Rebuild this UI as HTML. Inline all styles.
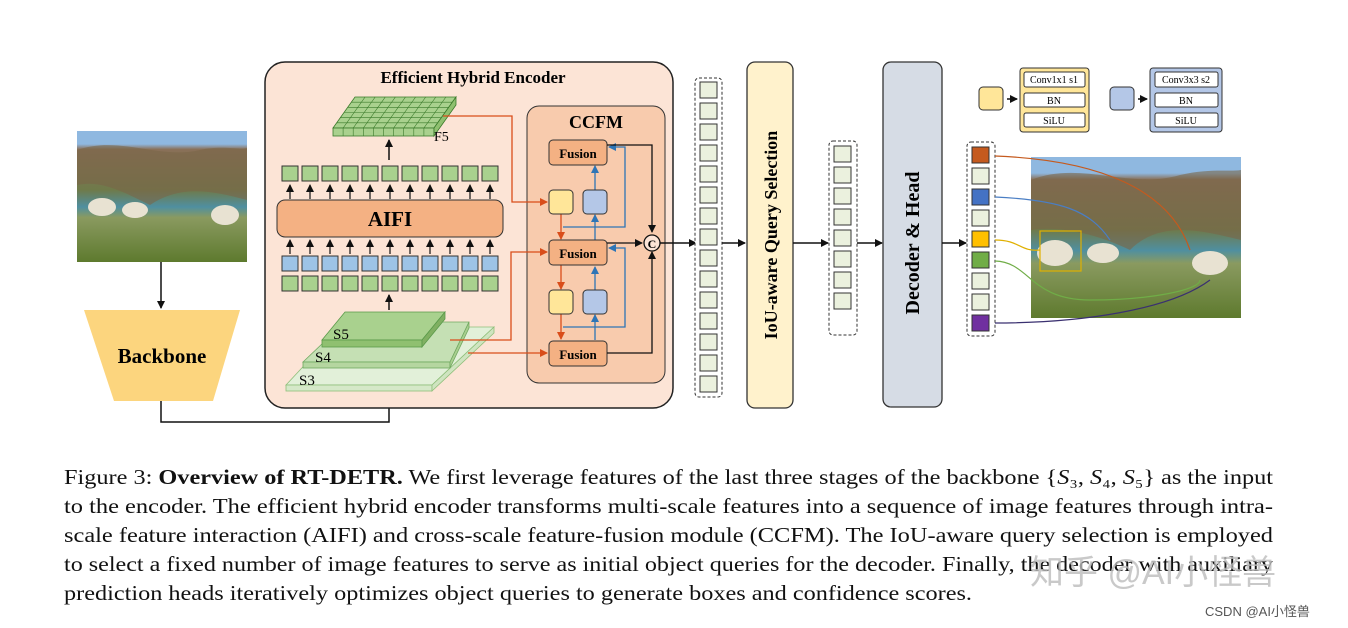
<!DOCTYPE html>
<html><head><meta charset="utf-8"><style>
html,body{margin:0;padding:0;background:#fff;}
svg{display:block;}
.t{font-family:"Liberation Serif",serif;}
</style></head><body>
<svg id="s" width="1348" height="628" viewBox="0 0 1348 628" xmlns="http://www.w3.org/2000/svg">
<defs>
<marker id="ak" markerWidth="8" markerHeight="8" refX="7" refY="4" orient="auto" markerUnits="userSpaceOnUse"><path d="M0,0 L8,4 L0,8 z" fill="#111"/></marker>
<marker id="ar" markerWidth="8" markerHeight="8" refX="7" refY="4" orient="auto" markerUnits="userSpaceOnUse"><path d="M0,0 L8,4 L0,8 z" fill="#d94d1a"/></marker>
<marker id="ab" markerWidth="8" markerHeight="8" refX="7" refY="4" orient="auto" markerUnits="userSpaceOnUse"><path d="M0,0 L8,4 L0,8 z" fill="#2e75b6"/></marker>
<linearGradient id="ph" x1="0" y1="0" x2="0" y2="1">
<stop offset="0" stop-color="#8fb8e0"/><stop offset="0.1" stop-color="#8fb8e0"/><stop offset="0.14" stop-color="#8a7058"/><stop offset="0.45" stop-color="#6f7a4a"/><stop offset="0.58" stop-color="#4f8fa0"/><stop offset="0.66" stop-color="#8a9a60"/><stop offset="1" stop-color="#5e7a2e"/>
</linearGradient>
</defs>

<!-- left photo -->
<rect x="77" y="131" width="170" height="131" fill="url(#ph)"/>
<path d="M77,150 C120,135 160,160 200,150 C220,145 240,150 247,148 L247,200 C210,190 180,185 150,205 C120,190 100,180 77,185 z" fill="#7a6648" opacity="0.6"/>
<ellipse cx="102" cy="207" rx="14" ry="9" fill="#e8e2d2"/><ellipse cx="135" cy="210" rx="13" ry="8" fill="#e8e2d2"/><ellipse cx="225" cy="215" rx="14" ry="10" fill="#e8e2d2"/>
<line x1="161" y1="262" x2="161" y2="308" stroke="#111" stroke-width="1.5" marker-end="url(#ak)"/>
<polygon points="84,310 240,310 213,401 114,401" fill="#fcd57e"/>
<text x="162" y="363" text-anchor="middle" class="t" font-weight="bold" font-size="21">Backbone</text>
<polyline points="161,401 161,422 389,422 389,396" fill="none" stroke="#111" stroke-width="1.5" marker-end="url(#ak)"/>

<!-- encoder -->
<rect x="265" y="62" width="408" height="346" rx="20" fill="#fce4d6" stroke="#222" stroke-width="1.5"/>
<text x="473" y="83" text-anchor="middle" class="t" font-weight="bold" font-size="17">Efficient Hybrid Encoder</text>
<rect x="527" y="106" width="138" height="277" rx="12" fill="#f8cbad" stroke="#333" stroke-width="1"/>
<text x="596" y="128" text-anchor="middle" class="t" font-weight="bold" font-size="18">CCFM</text>
<g id="gen"></g>

<!-- F5 grid -->
<polygon points="333,128 355,97 456,97 434,128" fill="#a9d18e" stroke="#3a7a2a" stroke-width="0.8"/>
<rect x="333" y="128" width="101" height="8" fill="#a9d18e" stroke="#3a7a2a" stroke-width="0.8"/>
<polygon points="434,128 456,97 456,105 434,136" fill="#8fc070" stroke="#3a7a2a" stroke-width="0.8"/>
<g id="f5lines" stroke="#3a7a2a" stroke-width="0.6"></g>
<text x="434" y="141" class="t" font-size="14">F5</text>
<line x1="389" y1="160" x2="389" y2="140" stroke="#111" stroke-width="1.5" marker-end="url(#ak)"/>

<rect x="277" y="200" width="226" height="37" rx="8" fill="#f4b183" stroke="#333" stroke-width="1"/>
<text x="390" y="226" text-anchor="middle" class="t" font-weight="bold" font-size="21">AIFI</text>

<!-- S layers -->
<polygon points="286,385 340,327 494,327 432,385" fill="#e2f0d9" stroke="#8fbf7a" stroke-width="0.8"/>
<rect x="286" y="385" width="146" height="6" fill="#d5e8c8" stroke="#8fbf7a" stroke-width="0.8"/>
<polygon points="432,385 494,327 494,333 432,391" fill="#cfe4c0" stroke="#8fbf7a" stroke-width="0.8"/>
<polygon points="303,362 345,322 469,322 450,362" fill="#c5e0b4" stroke="#70a860" stroke-width="0.8"/>
<rect x="303" y="362" width="147" height="6" fill="#b5d6a0" stroke="#70a860" stroke-width="0.8"/>
<polygon points="450,362 469,322 469,328 450,368" fill="#a9cf90" stroke="#70a860" stroke-width="0.8"/>
<polygon points="322,340 345,312 445,312 422,340" fill="#a9d18e" stroke="#5a9a4a" stroke-width="0.8"/>
<rect x="322" y="340" width="100" height="7" fill="#8fc070" stroke="#5a9a4a" stroke-width="0.8"/>
<polygon points="422,340 445,312 445,319 422,347" fill="#80b062" stroke="#5a9a4a" stroke-width="0.8"/>
<text x="333" y="339" class="t" font-size="15">S5</text>
<text x="315" y="362" class="t" font-size="15">S4</text>
<text x="299" y="385" class="t" font-size="15">S3</text>
<line x1="389" y1="310" x2="389" y2="295" stroke="#111" stroke-width="1.5" marker-end="url(#ak)"/>

<!-- red connectors -->
<polyline points="443,116 512,116 512,202 547,202" fill="none" stroke="#d94d1a" stroke-width="1.3" marker-end="url(#ar)"/>
<polyline points="450,340 511,340 511,252 547,252" fill="none" stroke="#d94d1a" stroke-width="1.3" marker-end="url(#ar)"/>
<line x1="468" y1="353" x2="547" y2="353" stroke="#d94d1a" stroke-width="1.3" marker-end="url(#ar)"/>
<line x1="561" y1="214" x2="561" y2="239" stroke="#d94d1a" stroke-width="1.3" marker-end="url(#ar)"/>
<line x1="561" y1="265" x2="561" y2="289" stroke="#d94d1a" stroke-width="1.3" marker-end="url(#ar)"/>
<line x1="561" y1="314" x2="561" y2="339" stroke="#d94d1a" stroke-width="1.3" marker-end="url(#ar)"/>

<!-- blue connectors -->
<polyline points="563,227 625,227 625,147 609,147" fill="none" stroke="#2e75b6" stroke-width="1.3" marker-end="url(#ab)"/>
<polyline points="563,327 625,327 625,248 609,248" fill="none" stroke="#2e75b6" stroke-width="1.3" marker-end="url(#ab)"/>
<line x1="595" y1="240" x2="595" y2="215" stroke="#2e75b6" stroke-width="1.3" marker-end="url(#ab)"/>
<line x1="595" y1="190" x2="595" y2="166" stroke="#2e75b6" stroke-width="1.3" marker-end="url(#ab)"/>
<line x1="595" y1="340" x2="595" y2="315" stroke="#2e75b6" stroke-width="1.3" marker-end="url(#ab)"/>
<line x1="595" y1="290" x2="595" y2="267" stroke="#2e75b6" stroke-width="1.3" marker-end="url(#ab)"/>

<!-- ccfm blocks -->
<rect x="549" y="140" width="58" height="25" rx="4" fill="#f4b183" stroke="#333"/>
<rect x="549" y="240" width="58" height="25" rx="4" fill="#f4b183" stroke="#333"/>
<rect x="549" y="341" width="58" height="25" rx="4" fill="#f4b183" stroke="#333"/>
<text x="578" y="158" text-anchor="middle" class="t" font-weight="bold" font-size="13">Fusion</text>
<text x="578" y="258" text-anchor="middle" class="t" font-weight="bold" font-size="13">Fusion</text>
<text x="578" y="359" text-anchor="middle" class="t" font-weight="bold" font-size="13">Fusion</text>
<rect x="549" y="190" width="24" height="24" rx="4" fill="#ffe699" stroke="#333"/>
<rect x="583" y="190" width="24" height="24" rx="4" fill="#b4c7e7" stroke="#333"/>
<rect x="549" y="290" width="24" height="24" rx="4" fill="#ffe699" stroke="#333"/>
<rect x="583" y="290" width="24" height="24" rx="4" fill="#b4c7e7" stroke="#333"/>
<polyline points="607,145 652,145 652,232" fill="none" stroke="#111" stroke-width="1.3" marker-end="url(#ak)"/>
<polyline points="607,353 652,353 652,252" fill="none" stroke="#111" stroke-width="1.3" marker-end="url(#ak)"/>
<line x1="607" y1="243" x2="642" y2="243" stroke="#111" stroke-width="1.3" marker-end="url(#ak)"/>
<circle cx="652" cy="243" r="8" fill="#fce4d6" stroke="#111" stroke-width="1.3"/>
<text x="652" y="248" text-anchor="middle" class="t" font-weight="bold" font-size="12">C</text>
<line x1="660" y1="243" x2="696" y2="243" stroke="#111" stroke-width="1.5" marker-end="url(#ak)"/>

<!-- token columns -->
<rect x="695" y="78" width="27" height="319" rx="4" fill="#fff" stroke="#333" stroke-dasharray="3,2"/>
<line x1="722" y1="243" x2="745" y2="243" stroke="#111" stroke-width="1.5" marker-end="url(#ak)"/>
<rect x="747" y="62" width="46" height="346" rx="8" fill="#fff2cc" stroke="#333" stroke-width="1.3"/>
<text transform="translate(777,235) rotate(-90)" text-anchor="middle" class="t" font-weight="bold" font-size="18">IoU-aware Query Selection</text>
<line x1="793" y1="243" x2="828" y2="243" stroke="#111" stroke-width="1.5" marker-end="url(#ak)"/>
<rect x="829" y="141" width="28" height="194" rx="4" fill="#fff" stroke="#333" stroke-dasharray="3,2"/>
<line x1="857" y1="243" x2="882" y2="243" stroke="#111" stroke-width="1.5" marker-end="url(#ak)"/>
<rect x="883" y="62" width="59" height="345" rx="8" fill="#d6dce5" stroke="#333" stroke-width="1.3"/>
<text transform="translate(919,243) rotate(-90)" text-anchor="middle" class="t" font-weight="bold" font-size="20">Decoder &amp; Head</text>
<line x1="942" y1="243" x2="966" y2="243" stroke="#111" stroke-width="1.5" marker-end="url(#ak)"/>
<rect x="967" y="142" width="28" height="194" rx="4" fill="#fff" stroke="#333" stroke-dasharray="3,2"/>

<!-- legend -->
<rect x="979" y="87" width="24" height="23" rx="4" fill="#ffe699" stroke="#333"/>
<line x1="1007" y1="99" x2="1017" y2="99" stroke="#111" stroke-width="1.5" marker-end="url(#ak)"/>
<rect x="1020" y="68" width="69" height="64" rx="3" fill="#ffe699" stroke="#333"/>
<rect x="1110" y="87" width="24" height="23" rx="4" fill="#b4c7e7" stroke="#333"/>
<line x1="1138" y1="99" x2="1147" y2="99" stroke="#111" stroke-width="1.5" marker-end="url(#ak)"/>
<rect x="1150" y="68" width="72" height="64" rx="3" fill="#b4c7e7" stroke="#333"/>
<g fill="#fff" stroke="#333">
<rect x="1024" y="72" width="61" height="15" rx="2"/><rect x="1024" y="93" width="61" height="14" rx="2"/><rect x="1024" y="113" width="61" height="14" rx="2"/>
<rect x="1155" y="72" width="63" height="15" rx="2"/><rect x="1155" y="93" width="63" height="14" rx="2"/><rect x="1155" y="113" width="63" height="14" rx="2"/>
</g>
<g class="t" font-size="10" text-anchor="middle">
<text x="1054" y="83">Conv1x1 s1</text><text x="1054" y="104">BN</text><text x="1054" y="124">SiLU</text>
<text x="1186" y="83">Conv3x3 s2</text><text x="1186" y="104">BN</text><text x="1186" y="124">SiLU</text>
</g>

<!-- right photo -->
<rect x="1031" y="157" width="210" height="161" fill="url(#ph)"/>
<path d="M1031,180 C1080,160 1130,190 1180,175 C1210,168 1230,172 1241,170 L1241,240 C1200,230 1160,220 1130,250 C1100,235 1060,225 1031,230 z" fill="#7a6648" opacity="0.6"/>
<ellipse cx="1055" cy="253" rx="18" ry="13" fill="#e8e2d2"/><ellipse cx="1103" cy="253" rx="16" ry="10" fill="#e8e2d2"/><ellipse cx="1210" cy="263" rx="18" ry="12" fill="#e8e2d2"/>
<rect x="1040" y="231" width="41" height="40" fill="none" stroke="#e0b000" stroke-width="1.2"/>
<g fill="none" stroke-width="1.2">
<path d="M995,156 C1100,160 1170,190 1190,250" stroke="#c55a1e"/>
<path d="M995,197 C1060,200 1090,210 1110,240" stroke="#4a7ec4"/>
<path d="M995,240 C1020,240 1020,252 1040,250" stroke="#e0b000"/>
<path d="M995,261 C1030,262 1030,300 1090,300 C1150,300 1200,290 1200,280" stroke="#70ad47"/>
<path d="M995,323 C1080,323 1170,310 1210,280" stroke="#3a3070"/>
</g>

<!-- caption -->
<g class="t" font-size="21" fill="#111">
<text x="64" y="484" textLength="1209" lengthAdjust="spacingAndGlyphs">Figure 3: <tspan font-weight="bold">Overview of RT-DETR.</tspan> We first leverage features of the last three stages of the backbone {<tspan font-style="italic">S</tspan>₃, <tspan font-style="italic">S</tspan>₄, <tspan font-style="italic">S</tspan>₅} as the input</text>
<text x="64" y="513" textLength="1209" lengthAdjust="spacingAndGlyphs">to the encoder. The efficient hybrid encoder transforms multi-scale features into a sequence of image features through intra-</text>
<text x="64" y="542" textLength="1209" lengthAdjust="spacingAndGlyphs">scale feature interaction (AIFI) and cross-scale feature-fusion module (CCFM). The IoU-aware query selection is employed</text>
<text x="64" y="571" textLength="1209" lengthAdjust="spacingAndGlyphs">to select a fixed number of image features to serve as initial object queries for the decoder. Finally, the decoder with auxiliary</text>
<text x="64" y="600" textLength="908" lengthAdjust="spacingAndGlyphs">prediction heads iteratively optimizes object queries to generate boxes and confidence scores.</text>
</g>
<text x="1030" y="584" font-family="'Liberation Sans','Noto Sans CJK SC',sans-serif" font-size="34" fill="#bbb" fill-opacity="0.8">知乎 @AI小怪兽</text>
<text x="1205" y="616" font-family="'Liberation Sans','Noto Sans CJK SC',sans-serif" font-size="13" fill="#555">CSDN @AI小怪兽</text>
</svg>
<script>
var NS="http://www.w3.org/2000/svg",g=document.getElementById("gen");
function el(t,a){var e=document.createElementNS(NS,t);for(var k in a)e.setAttribute(k,a[k]);g.appendChild(e);return e;}
for(var i=0;i<11;i++){var x=282+20*i;
el("rect",{x:x,y:166,width:16,height:15,fill:"#a9d18e",stroke:"#333","stroke-width":1});
el("rect",{x:x,y:256,width:16,height:15,fill:"#9dc3e6",stroke:"#333","stroke-width":1});
el("rect",{x:x,y:276,width:16,height:15,fill:"#a9d18e",stroke:"#333","stroke-width":1});
el("line",{x1:x+8,y1:199,x2:x+8,y2:185,stroke:"#111","stroke-width":1.2,"marker-end":"url(#ak)"});
el("line",{x1:x+8,y1:254,x2:x+8,y2:240,stroke:"#111","stroke-width":1.2,"marker-end":"url(#ak)"});
}
function sq(x,y,c){var e=document.createElementNS(NS,"rect");e.setAttribute("x",x);e.setAttribute("y",y);e.setAttribute("width",17);e.setAttribute("height",16);e.setAttribute("fill",c);e.setAttribute("stroke","#333");document.getElementById("s").appendChild(e);}
for(var i=0;i<15;i++)sq(700,82+21*i,"#ebf1de");
for(var i=0;i<8;i++)sq(834,146+21*i,"#ebf1de");
var cols=["#c55a1e","#ebf1de","#4472c4","#ebf1de","#ffc000","#70ad47","#ebf1de","#ebf1de","#7030a0"];
for(var i=0;i<9;i++)sq(972,147+21*i,cols[i]);
var f=document.getElementById("f5lines");
for(var i=1;i<10;i++){var l=document.createElementNS(NS,"line");var x=333+10.1*i;l.setAttribute("x1",x);l.setAttribute("y1",136);l.setAttribute("x2",x);l.setAttribute("y2",128);f.appendChild(l);
var l2=document.createElementNS(NS,"line");l2.setAttribute("x1",x);l2.setAttribute("y1",128);l2.setAttribute("x2",x+22);l2.setAttribute("y2",97);f.appendChild(l2);}
for(var j=1;j<6;j++){var l=document.createElementNS(NS,"line");var y=128-31*j/6,dx=22*j/6;l.setAttribute("x1",333+dx);l.setAttribute("y1",y);l.setAttribute("x2",434+dx);l.setAttribute("y2",y);f.appendChild(l);}
</script>
</body></html>
